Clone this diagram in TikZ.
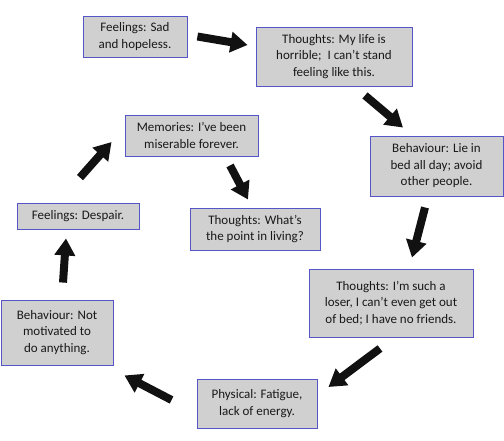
\documentclass[tikz,border=0pt]{standalone}
\usepackage{fontspec}
\setmainfont{Carlito}
\usetikzlibrary{calc,arrows.meta}
\definecolor{boxfill}{RGB}{208,208,208}
\definecolor{boxline}{RGB}{85,85,200}
\definecolor{arrowcol}{RGB}{17,17,17}
\tikzset{
  cbox/.style={draw=boxline, fill=boxfill, line width=0.9pt, align=center,
    inner sep=0pt, font=\fontsize{13}{16.5}\selectfont, text=black!90},
  fatarrow/.style={draw=arrowcol, line width=8pt,
    -{Triangle[width=20pt,length=17pt]}}
}
\begin{document}
\begin{tikzpicture}[x=1pt,y=-1pt]
\useasboundingbox (0,0) rectangle (504,440);
\node[cbox, minimum width=104pt, minimum height=41pt] (sad) at (135,36.5) {Feelings: Sad\\and hopeless.};
\node[cbox, minimum width=156pt, minimum height=59pt] (life) at (334,56.5) {Thoughts: My life is\\horrible;\ \ I can’t stand\\feeling like this.};
\node[cbox, minimum width=133pt, minimum height=60pt] (lie) at (436.5,166) {Behaviour: Lie in\\bed all day; avoid\\other people.};
\node[cbox, minimum width=164pt, minimum height=68pt] (loser) at (391,303) {Thoughts: I’m such a\\loser, I can’t even get out\\of bed; I have no friends.};
\node[cbox, minimum width=120pt, minimum height=49pt] (phys) at (257,403.5) {Physical: Fatigue,\\lack of energy.};
\node[cbox, minimum width=112pt, minimum height=65pt] (notm) at (57,332.5) {Behaviour: Not\\motivated to\\do anything.};
\node[cbox, minimum width=122pt, minimum height=26pt] (desp) at (78,216) {Feelings: Despair.};
\node[cbox, minimum width=133pt, minimum height=41pt] (mem) at (191.5,135.5) {Memories: I’ve been\\miserable forever.};
\node[cbox, minimum width=130pt, minimum height=42pt] (what) at (255,229) {Thoughts: What’s\\the point in living?};

\draw[fatarrow] ($(sad.east)+(10,0)$) -- ($(life.west)+(-8,-11.5)$);
\draw[fatarrow] ($(life.south)+(31,9)$) -- ($(lie.north)+(-33.5,-8)$);
\draw[fatarrow] ($(lie.south)+(-11.5,11)$) -- ($(loser.north)+(21,-11)$);
\draw[fatarrow] ($(loser.south)+(-11,11)$) -- ($(phys.east)+(11,-16.5)$);
\draw[fatarrow] ($(phys.west)+(-25,-3.5)$) -- ($(notm.south east)+(11,10)$);
\draw[fatarrow] ($(notm.north)+(6,-17)$) -- ($(desp.south)+(-12,9)$);
\draw[fatarrow] ($(desp.north)+(2,-25)$) -- ($(mem.west)+(-13,6.5)$);
\draw[fatarrow] ($(mem.south)+(38.5,9)$) -- ($(what.north)+(-7,-8)$);
\end{tikzpicture}
\end{document}
